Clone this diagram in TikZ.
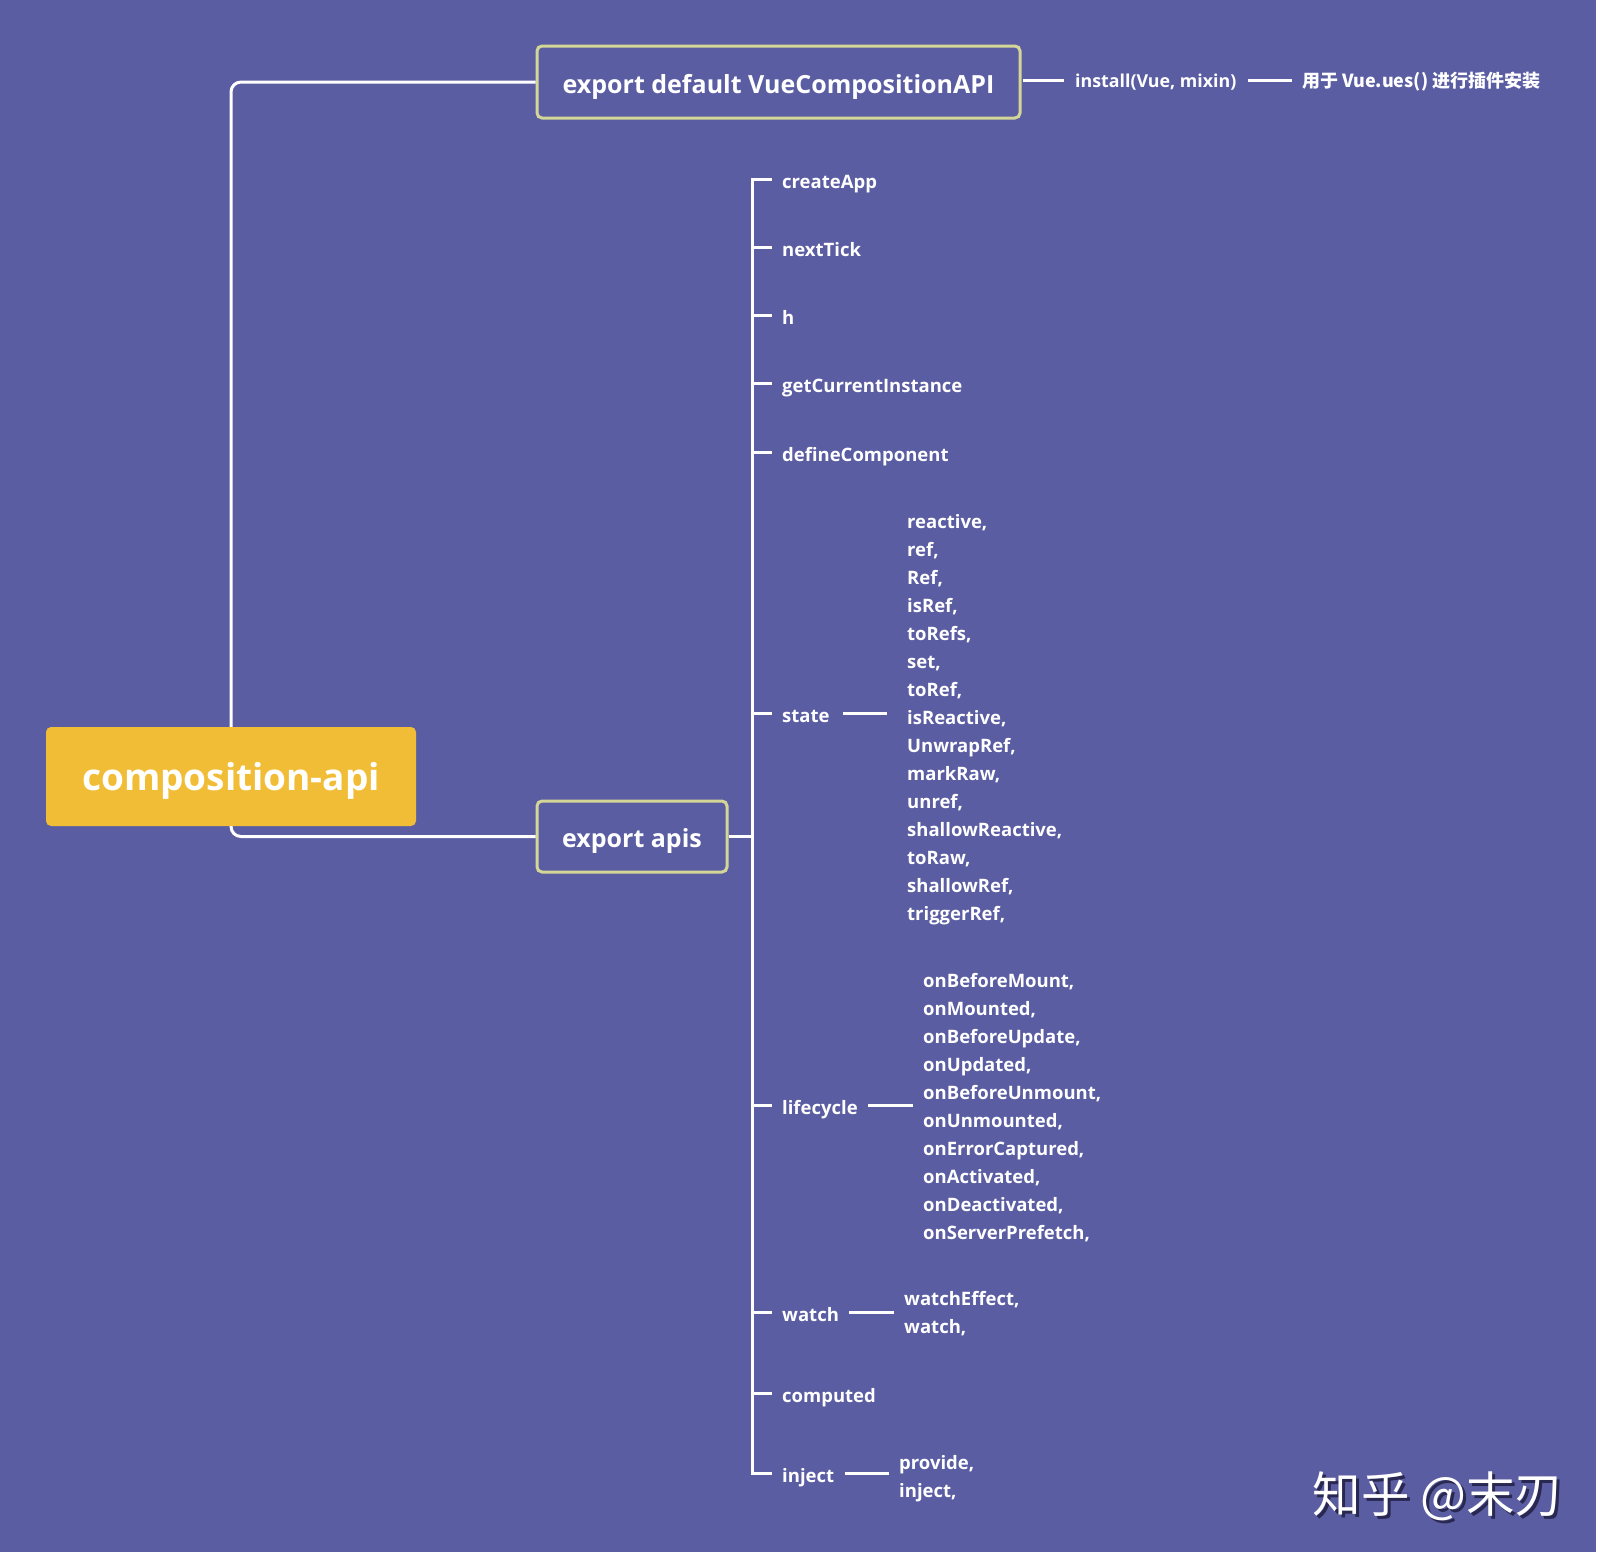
\documentclass[tikz,border=0pt]{standalone}
\usepackage{fontspec}
\setmainfont{Open Sans}
\newfontfamily\cjk{Noto Sans CJK SC}
\definecolor{bgpurple}{RGB}{91,93,163}
\definecolor{rootyellow}{RGB}{242,189,54}
\definecolor{boxborder}{RGB}{212,214,152}
\definecolor{shadowc}{RGB}{40,40,80}
\tikzset{
  conn/.style={draw=white, line width=3pt},
  rootbox/.style={fill=rootyellow, rounded corners=5pt, minimum width=370pt, minimum height=99pt,
    text=white, font=\bfseries\fontsize{37}{40}\selectfont, inner sep=0pt,
    text height=31pt, text depth=4pt},
  topicbox/.style={draw=boxborder, line width=3pt, fill=bgpurple, rounded corners=5pt,
    text=white, font=\bfseries\fontsize{25}{27}\selectfont, inner sep=0pt,
    text height=26pt, text depth=4pt},
  item/.style={text=white, font=\bfseries\fontsize{18.5}{20}\selectfont, inner sep=0pt, anchor=base west},
  small/.style={text=white, font=\bfseries\fontsize{17.8}{19}\selectfont, inner sep=0pt, anchor=base west},
}
\begin{document}
\begin{tikzpicture}[x=1pt,y=-1pt]
\useasboundingbox (0,0) rectangle (1608,1564);
\fill[white] (0,0) rectangle (1608,1564);
\fill[bgpurple] (0,0) rectangle (1596,1552);

% main nodes
\node[rootbox] (root) at (231,776.5) {composition-api};
\node[topicbox, minimum width=483pt, minimum height=72pt] (def) at (778.5,82) {export default VueCompositionAPI};
\node[topicbox, minimum width=190pt, minimum height=71pt] (apis) at (632,836.5) {export apis};

\draw[conn, rounded corners=10pt] (def.west) -| (root.north);
\draw[conn, rounded corners=10pt] (root.south) |- (apis.west);

% install branch
\node[small] (install) at (1075,87) {install(Vue, mixin)};
\node[small, font=\cjk\bfseries\fontsize{18}{19}\selectfont] (usage) at (1302,87) {用于 Vue.ues() 进行插件安装};
\coordinate (i1) at (1023,80);
\coordinate (i2) at (1064,80);
\coordinate (i3) at (1248,80);
\coordinate (i4) at (1292,80);
\draw[conn] (i1) -- (i2);
\draw[conn] (i3) -- (i4);

% spine
\coordinate (spmid) at (752,836.5);
\draw[conn] (apis.east) -- (spmid);
\coordinate (sptop) at (752,179);
\coordinate (spbot) at (752,1473);
\draw[conn, line cap=rect] (sptop) -- (spbot);

\foreach \nm/\ty/\txt in {createapp/179/createApp, nexttick/247/nextTick, hh/315/h,
   gci/383/getCurrentInstance, defc/452/defineComponent, state/713/state,
   lifecycle/1105/lifecycle, watch/1312/watch, computed/1393/computed, inject/1473/inject}{
  \coordinate (a-\nm) at (752,\ty);
  \coordinate (b-\nm) at (772,\ty);
  \draw[conn] (a-\nm) -- (b-\nm);
  \node[item] (\nm) at (782,{\ty+9}) {\txt};
}

% state list
\coordinate (st1) at (843,713);
\coordinate (st2) at (887,713);
\draw[conn] (st1) -- (st2);
\foreach \t [count=\i from 0] in {{reactive,},{ref,},{Ref,},{isRef,},{toRefs,},{set,},{toRef,},{isReactive,},{UnwrapRef,},{markRaw,},{unref,},{shallowReactive,},{toRaw,},{shallowRef,},{triggerRef,}}{
  \node[item] (s\i) at (907,{528+28.0*\i}) {\t};
}

% lifecycle list
\coordinate (lc1) at (868,1105);
\coordinate (lc2) at (913,1105);
\draw[conn] (lc1) -- (lc2);
\foreach \t [count=\i from 0] in {{onBeforeMount,},{onMounted,},{onBeforeUpdate,},{onUpdated,},{onBeforeUnmount,},{onUnmounted,},{onErrorCaptured,},{onActivated,},{onDeactivated,},{onServerPrefetch,}}{
  \node[item] (l\i) at (923,{987+28.0*\i}) {\t};
}

% watch list
\coordinate (w1) at (849,1312);
\coordinate (w2) at (894,1312);
\draw[conn] (w1) -- (w2);
\node[item] (w-a) at (904,1305) {watchEffect,};
\node[item] (w-b) at (904,1333) {watch,};

% inject list
\coordinate (j1) at (845,1473);
\coordinate (j2) at (889,1473);
\draw[conn] (j1) -- (j2);
\node[item] (j-a) at (899,1469) {provide,};
\node[item] (j-b) at (899,1497) {inject,};

% watermark
\node[text=shadowc, font=\cjk\fontsize{48.5}{50}\selectfont, inner sep=0pt] (wmshadow) at (1441,1499) {知乎 @末刃};
\node[text=white, font=\cjk\fontsize{48.5}{50}\selectfont, inner sep=0pt] (wm) at (1438,1496) {知乎 @末刃};
\end{tikzpicture}
\end{document}
